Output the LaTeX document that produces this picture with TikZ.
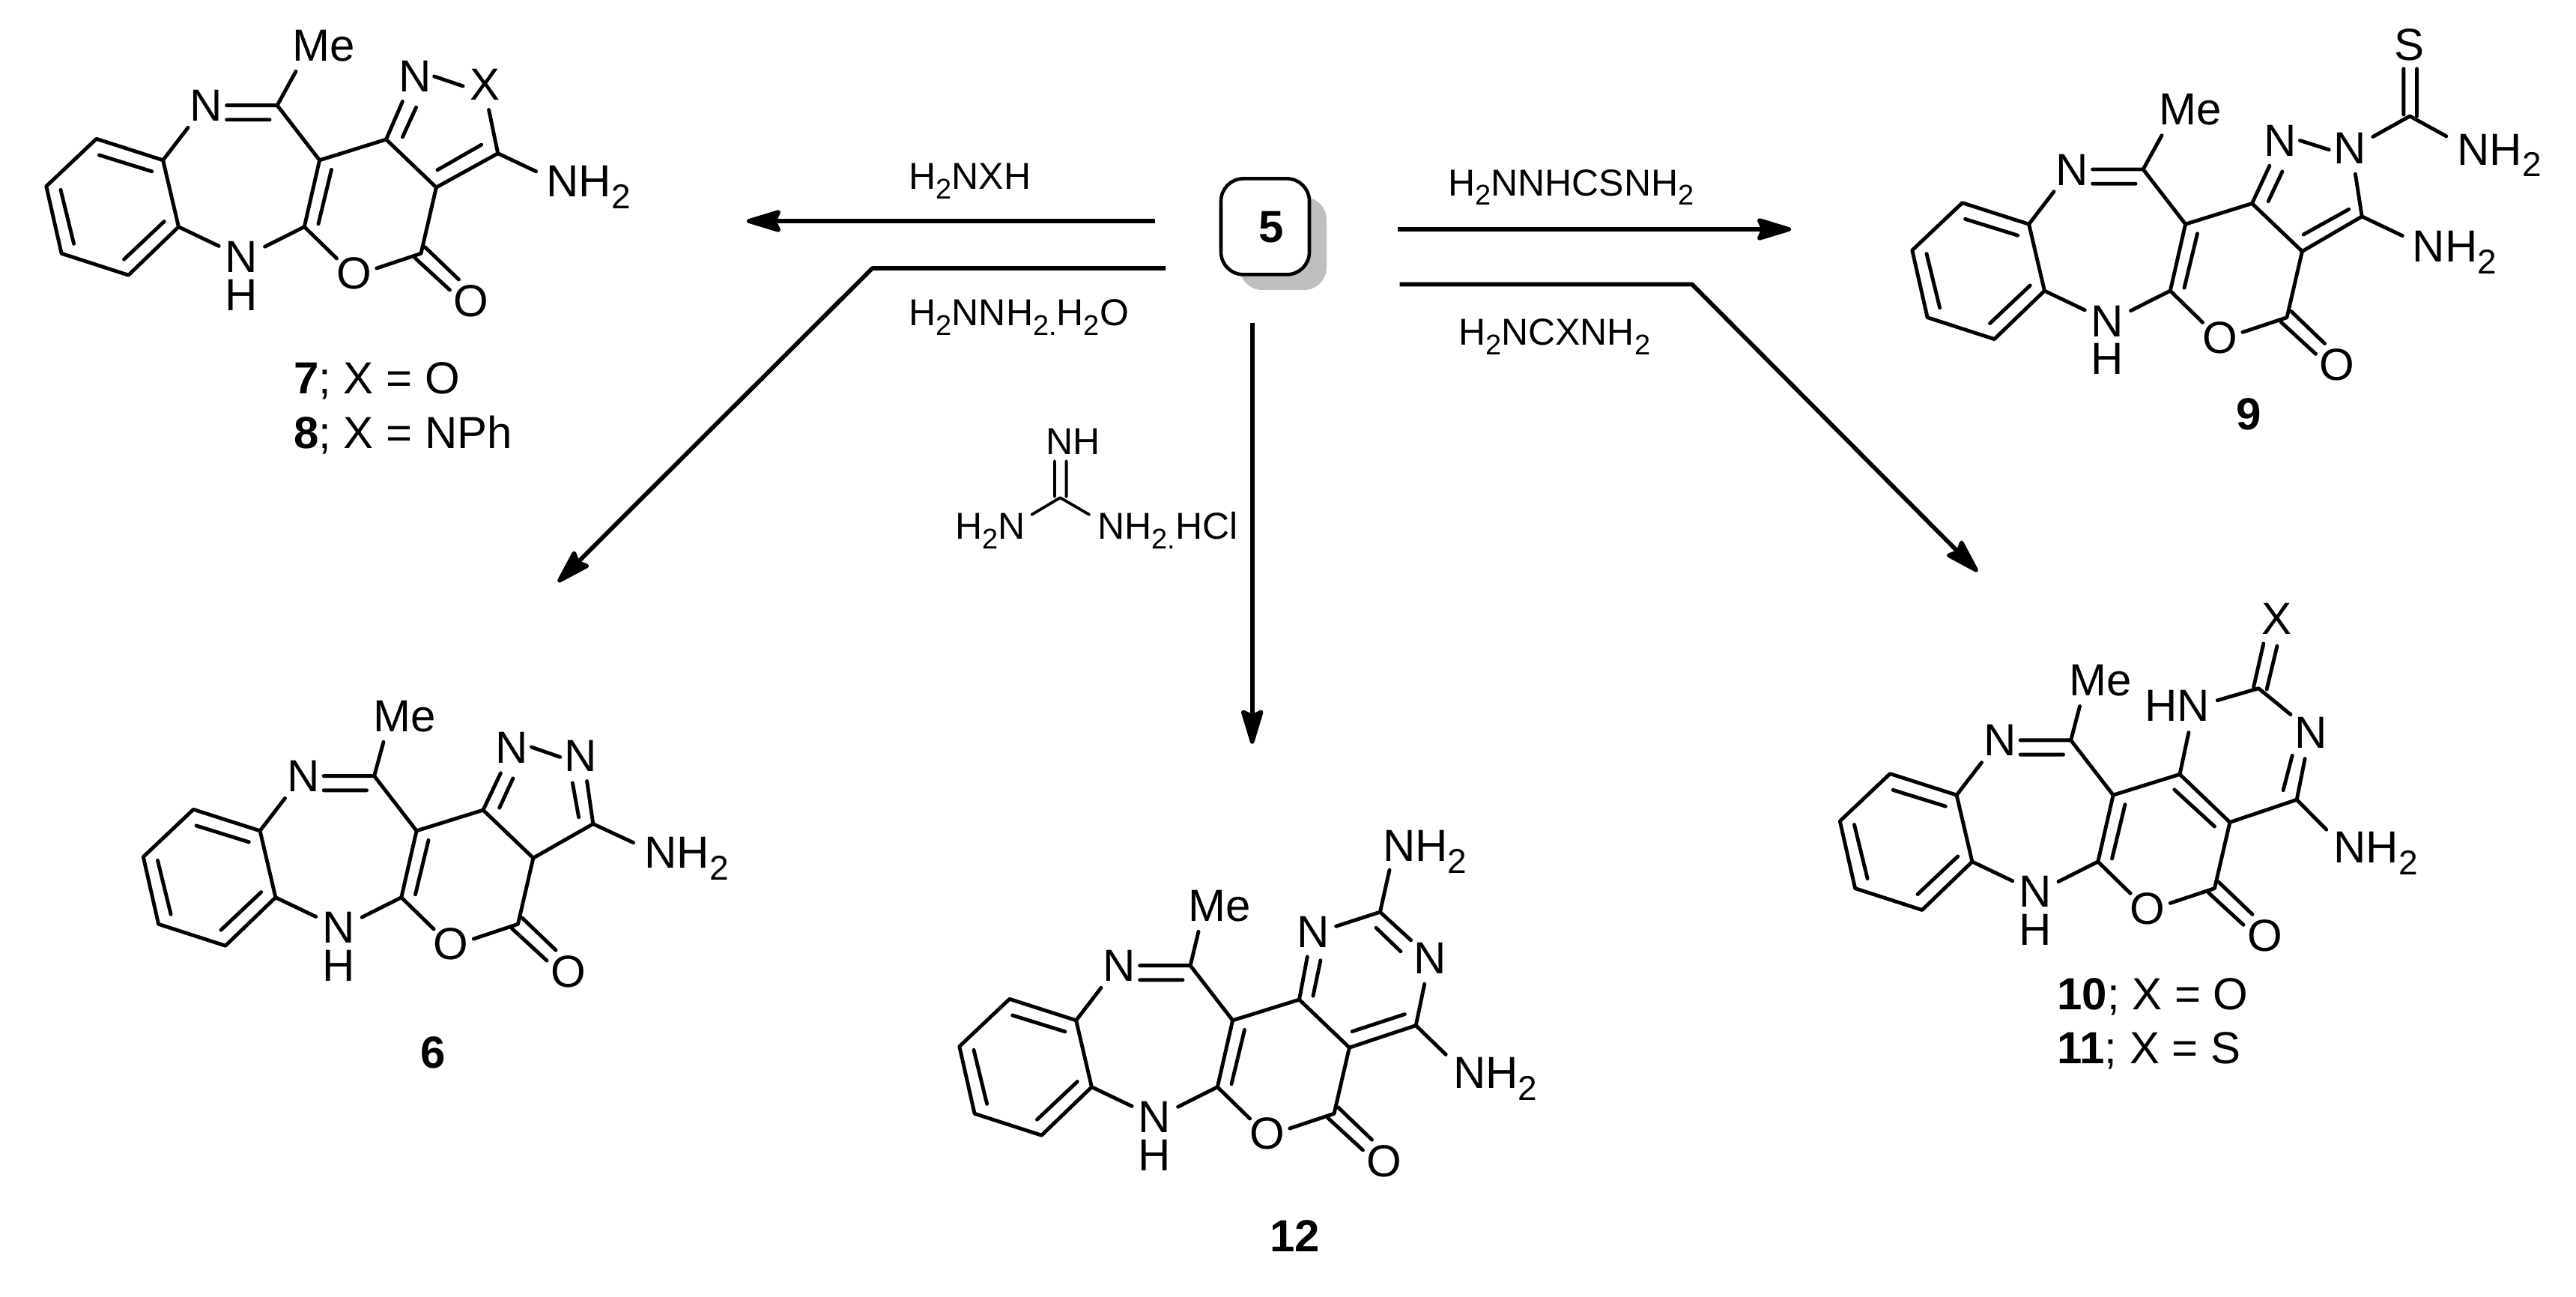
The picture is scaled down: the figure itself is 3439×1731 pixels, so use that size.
\documentclass[tikz,border=0pt]{standalone}
\usepackage{fontspec}
\setmainfont{Liberation Sans}
\usetikzlibrary{arrows.meta,shapes.misc}
\newcommand{\subB}{\raisebox{-16pt}{\fontsize{46}{46}\selectfont 2}}
\newcommand{\subR}{\raisebox{-13pt}{\fontsize{38}{38}\selectfont 2}}
\newcommand{\dotR}{\raisebox{-13pt}{\fontsize{38}{38}\selectfont .}}
\tikzset{
  bond/.style={line width=4.9pt,line cap=round,line join=round,black},
  thinbond/.style={line width=3.8pt,line cap=round,line join=round,black},
  arrowline/.style={line width=5.7pt,line join=round,-{Stealth[length=54pt,width=32pt,inset=7pt,round]}},
  atom/.style={inner sep=0pt,outer sep=0pt,font=\fontsize{60}{60}\selectfont},
  amine/.style={inner sep=0pt,outer sep=0pt,anchor=base west,font=\fontsize{60}{60}\selectfont},
  caption/.style={inner sep=0pt,outer sep=0pt,anchor=base west,font=\fontsize{60}{60}\selectfont},
  reagent/.style={inner sep=0pt,outer sep=0pt,anchor=base west,font=\fontsize{50}{50}\selectfont},
}
% common tricyclic skeleton: #1 prefix, #2 #3 offset, #4 end of the Me bond (x), #5 Me label (x)
\newcommand{\skeleton}[5]{%
\begin{scope}[shift={(#2,#3)}]
  \coordinate (#1a1) at (128.7,185.3);
  \coordinate (#1a2) at (217.6,213.8);
  \coordinate (#1a3) at (238.4,302.7);
  \coordinate (#1a4) at (171.5,367.2);
  \coordinate (#1a5) at (82.1,338.3);
  \coordinate (#1a6) at (61.8,248.6);
  \coordinate (#1c1) at (370.1,140.6);
  \coordinate (#1c2) at (426.6,213.8);
  \coordinate (#1c3) at (406.3,302.7);
  \coordinate (#1c4) at (562,338.3);
  \coordinate (#1c5) at (582.4,250.1);
  \coordinate (#1c6) at (515.5,186.1);
  \coordinate (#1i1) at (132.6,207);    \coordinate (#1i2) at (202.8,228.8);
  \coordinate (#1i3) at (81,253.3);     \coordinate (#1i4) at (98.6,325.3);
  \coordinate (#1i5) at (219.2,295.6);  \coordinate (#1i6) at (165.5,346.2);
  \coordinate (#1i7) at (442.5,226.4);  \coordinate (#1i8) at (425,298.8);
  \coordinate (#1e1) at (251,170.3);    \coordinate (#1e2) at (302.6,140.6);
  \coordinate (#1e3) at (302.6,159.8);  \coordinate (#1e4) at (360,159.8);
  \coordinate (#1e5) at (#4,95.3);      \coordinate (#1e6) at (292.2,328.4);
  \coordinate (#1e7) at (353.6,329.2);  \coordinate (#1e8) at (449.6,345);
  \coordinate (#1e9) at (502.8,358);
  \coordinate (#1o1) at (567.6,330);    \coordinate (#1o2) at (612.5,373.1);
  \coordinate (#1o3) at (553.9,344.2);  \coordinate (#1o4) at (600.5,387);
  \node[atom] (#1Nim) at (275.2,141) {N};
  \node[atom] (#1Me) at (#5,61) {Me};
  \node[atom] (#1NH) at (322.4,343) {N};
  \node[atom] (#1H) at (322.4,393.7) {H};
  \node[atom] (#1O) at (472.7,365.2) {O};
  \node[atom] (#1Ok) at (629,401.6) {O};
\end{scope}
\draw[bond] (#1a1)--(#1a2)--(#1a3)--(#1a4)--(#1a5)--(#1a6)--cycle;
\draw[bond] (#1i1)--(#1i2) (#1i3)--(#1i4) (#1i5)--(#1i6);
\draw[bond] (#1a2)--(#1e1) (#1e2)--(#1c1)--(#1c2)--(#1c3)--(#1e7) (#1e3)--(#1e4);
\draw[bond] (#1c1)--(#1e5) (#1a3)--(#1e6) (#1i7)--(#1i8) (#1c3)--(#1e8);
\draw[bond] (#1e9)--(#1c4)--(#1c5)--(#1c6)--(#1c2);
\draw[bond] (#1o1)--(#1o2) (#1o3)--(#1o4);
}
\begin{document}
\begin{tikzpicture}[x=1pt,y=-1pt]
\useasboundingbox (0,0) rectangle (3439,1731);
\fill[white] (0,0) rectangle (3439,1731);

% ---------- centre box
\node[fill=black!25,rounded corners=30pt,minimum width=116pt,minimum height=124pt,inner sep=0pt] (shadowfive) at (1713,325) {};
\node[draw=black,fill=white,line width=4.6pt,rounded corners=30pt,minimum width=118pt,minimum height=128pt,inner sep=0pt] (five) at (1689,302.4) {};
\node[atom,font=\fontsize{60}{60}\selectfont\bfseries] (fivelabel) at (1697.5,303.3) {5};

% ---------- arrows
\coordinate (lstart) at (1542,295);   \coordinate (ltip) at (997,295);
\coordinate (dlstart) at (1556,358);  \coordinate (dlbend) at (1164.6,358); \coordinate (dltip) at (745,776.7);
\coordinate (rstart) at (1865.8,306); \coordinate (rtip) at (2391,306);
\coordinate (drstart) at (1868.6,379.5); \coordinate (drbend) at (2259,379.5); \coordinate (drtip) at (2640,762.7);
\coordinate (dstart) at (1671.7,431); \coordinate (dtip) at (1671.7,992.7);
\draw[arrowline] (lstart)--(ltip);
\draw[arrowline] (dlstart)--(dlbend)--(dltip);
\draw[arrowline] (rstart)--(rtip);
\draw[arrowline] (drstart)--(drbend)--(drtip);
\draw[arrowline] (dstart)--(dtip);

% ---------- reagents
\node[reagent] (r1) at (1213.6,252.4) {H\subR NXH};
\node[reagent] (r2) at (1213.6,434) {H\subR NNH\subR\dotR H\subR O};
\node[reagent] (r3) at (1933.3,261) {H\subR NNHCSNH\subR};
\node[reagent] (r4) at (1947,460) {H\subR NCXNH\subR};
\node[reagent,anchor=base] (gNH) at (1432.9,606.4) {NH};
\node[reagent] (gN1) at (1275.6,719.3) {H\subR N};
\node[reagent] (gN2) at (1465.3,719.3) {NH\subR\dotR HCl};
\coordinate (gC) at (1415.3,664.2);
\coordinate (gd1) at (1407.9,615.2); \coordinate (gd2) at (1407.9,663);
\coordinate (gd3) at (1423.6,615.2); \coordinate (gd4) at (1423.6,663);
\coordinate (gl) at (1377.4,686.8);  \coordinate (gr) at (1454.2,686.8);
\draw[thinbond] (gd1)--(gd2) (gd3)--(gd4) (gl)--(gC)--(gr);

% ---------- compound 7 / 8
\skeleton{s}{0}{0}{395}{432}
\coordinate (sf1) at (537.4,135.5); \coordinate (sf2) at (555.5,143.4); \coordinate (sf3) at (537.4,182.9);
\coordinate (sf4) at (579.6,101.9); \coordinate (sf5) at (618,114.9);
\coordinate (sf6) at (652.6,146.5); \coordinate (sc7) at (664.7,204.7);
\coordinate (sf7) at (642.7,193.2); \coordinate (sf8) at (584,226.8); \coordinate (sf9) at (715.7,228.8);
\node[atom] (sN) at (553.9,102.2) {N};
\node[atom] (sX) at (647.1,112.9) {X};
\node[amine] (sA) at (729.4,262) {NH\subB};
\draw[bond] (sc6)--(sf1) (sf2)--(sf3) (sf4)--(sf5) (sf6)--(sc7)--(sc5) (sf7)--(sf8) (sc7)--(sf9);
\node[caption] (cap7) at (392,525) {\textbf{7}; X = O};
\node[caption] (cap8) at (392,598) {\textbf{8}; X = NPh};

% ---------- compound 6
\skeleton{p}{129.5}{895}{382.5}{411}
\coordinate (pf1) at (668.4,1031.8); \coordinate (pf2) at (684.8,1038.9); \coordinate (pf3) at (666.7,1078.2);
\coordinate (pf4) at (709.5,997.1);  \coordinate (pf5) at (747.9,1010.4);
\coordinate (pf6) at (783.6,1042.5); \coordinate (pc7) at (791.8,1099.6);
\coordinate (pf7) at (764.4,1045);   \coordinate (pf8) at (772.6,1090.7); \coordinate (pf9) at (845.6,1124.6);
\node[atom] (pN1) at (683.2,997.9) {N};
\node[atom] (pN2) at (775.4,1008.6) {N};
\node[amine] (pA) at (860.4,1158.6) {NH\subB};
\draw[bond] (pc6)--(pf1) (pf2)--(pf3) (pf4)--(pf5) (pf6)--(pc7)--(pc5) (pf7)--(pf8) (pc7)--(pf9);
\node[atom,font=\fontsize{60}{60}\selectfont\bfseries] (cap6) at (577.9,1405) {6};

% ---------- compound 9
\skeleton{t}{2491}{85.4}{395}{433}
\coordinate (tf1) at (3029.9,221.2); \coordinate (tf2) at (3046.9,228.9); \coordinate (tf3) at (3028.2,268.7);
\coordinate (tf4) at (3070.4,187.5); \coordinate (tf5) at (3109.2,199.8);
\coordinate (tf6) at (3144.4,232.3); \coordinate (tc7) at (3153.2,288.9);
\coordinate (tf7) at (3135.6,279.4); \coordinate (tf8) at (3075.1,313); \coordinate (tf9) at (3207.2,314.6);
\coordinate (tg1) at (3167.8,182.5); \coordinate (tC) at (3217.1,155);
\coordinate (tg2) at (3208.9,91.8);  \coordinate (tg3) at (3208.9,153);
\coordinate (tg4) at (3226.5,91.8);  \coordinate (tg5) at (3226.5,155);
\coordinate (tg6) at (3265.8,181.8);
\node[atom] (tN1) at (3044.6,187.5) {N};
\node[atom] (tN2) at (3136.7,198.2) {N};
\node[atom] (tS) at (3216,60) {S};
\node[amine] (tA) at (3220.7,349) {NH\subB};
\node[amine] (tB) at (3280.5,220) {NH\subB};
\draw[bond] (tc6)--(tf1) (tf2)--(tf3) (tf4)--(tf5) (tf6)--(tc7)--(tc5) (tf7)--(tf8) (tc7)--(tf9);
\draw[bond] (tg1)--(tC)--(tg6) (tg2)--(tg3) (tg4)--(tg5);
\node[atom,font=\fontsize{60}{60}\selectfont\bfseries] (cap9) at (3001.8,553) {9};

% ---------- compound 12
\skeleton{u}{1219}{1148}{381}{409.5}
\coordinate (uf1) at (1745.3,1276.9); \coordinate (uf2) at (1762.9,1281.7); \coordinate (uf3) at (1753,1329.1);
\coordinate (uf4) at (1783.7,1236.2); \coordinate (uc8) at (1842.4,1217.2); \coordinate (uf5) at (1855,1161);
\coordinate (uf6) at (1883.6,1254.8); \coordinate (uf7) at (1837,1238.2); \coordinate (uf8) at (1869.9,1269.8);
\coordinate (uf9) at (1901.7,1313.3); \coordinate (uc7) at (1890.2,1368.6);
\coordinate (ug1) at (1875.3,1353.6); \coordinate (ug2) at (1805.1,1376.6); \coordinate (ug3) at (1930.2,1407.4);
\node[atom] (uN1) at (1753,1244.1) {N};
\node[atom] (uN2) at (1909.4,1278.5) {N};
\node[amine] (uA) at (1846.3,1149.2) {NH\subB};
\node[amine] (uB) at (1940,1452.9) {NH\subB};
\draw[bond] (uc6)--(uf1) (uf2)--(uf3) (uf4)--(uc8)--(uf5) (uc8)--(uf6) (uf7)--(uf8) (uf9)--(uc7)--(uc5) (ug1)--(ug2) (uc7)--(ug3);
\node[atom,font=\fontsize{60}{60}\selectfont\bfseries] (cap12) at (1728.9,1649.4) {12};

% ---------- compound 10 / 11
\skeleton{v}{2394.5}{847.3}{382}{409.5}
\coordinate (vf1) at (2902.7,1053.8); \coordinate (vf2) at (2956.5,1103);
\coordinate (vf3) at (2921.9,977.6);  \coordinate (vf4) at (2960.3,934.7); \coordinate (vc8) at (3015.2,918.7);
\coordinate (vf5) at (3021.8,858.9);  \coordinate (vf6) at (3008.6,917);
\coordinate (vf7) at (3039.9,862.3);  \coordinate (vf8) at (3026.1,920);
\coordinate (vf9) at (3058,953.6);    \coordinate (vg1) at (3077.1,1012.5); \coordinate (vc7) at (3066.2,1067.3);
\coordinate (vg2) at (3060.2,1008.3); \coordinate (vg3) at (3048.1,1054.6); \coordinate (vg4) at (3105.7,1107.2);
\node[atom] (vHN) at (2906.6,942.3) {HN};
\node[atom] (vX) at (3039.9,826.1) {X};
\node[atom] (vN2) at (3084.8,978) {N};
\node[amine] (vA) at (3115.6,1151.4) {NH\subB};
\draw[bond] (vf1)--(vf2) (vc6)--(vf3) (vf4)--(vc8)--(vf9) (vf5)--(vf6) (vf7)--(vf8) (vg1)--(vc7)--(vc5) (vg2)--(vg3) (vc7)--(vg4);
\node[caption] (cap10) at (2746.4,1347) {\textbf{10}; X = O};
\node[caption] (cap11) at (2746.4,1419.5) {\textbf{11}; X = S};
\end{tikzpicture}
\end{document}
